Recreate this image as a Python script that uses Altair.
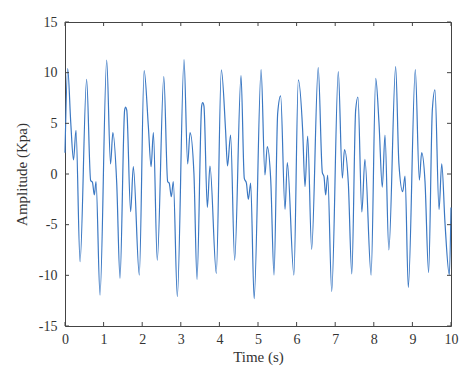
import altair as alt
import pandas as pd

time_s = [0.00, 0.07, 0.15, 0.22, 0.285, 0.39, 0.56, 0.665, 0.71, 0.76, 0.804, 0.907,
          1.08, 1.18, 1.24, 1.34, 1.425, 1.545, 1.57, 1.60, 1.70, 1.77, 1.925,
          2.05, 2.16, 2.23, 2.29, 2.39, 2.56, 2.66, 2.70, 2.755, 2.806, 2.91,
          3.083, 3.178, 3.24, 3.34, 3.42, 3.54, 3.567, 3.60, 3.687, 3.756, 3.92,
          4.05, 4.16, 4.21, 4.29, 4.395, 4.56, 4.645, 4.70, 4.75, 4.81, 4.90,
          5.08, 5.18, 5.24, 5.33, 5.415, 5.51, 5.587, 5.70, 5.76, 5.93,
          6.045, 6.157, 6.218, 6.287, 6.39, 6.56, 6.667, 6.71, 6.753, 6.805, 6.91,
          7.08, 7.185, 7.24, 7.34, 7.43, 7.53, 7.59, 7.69, 7.77, 7.93,
          8.05, 8.135, 8.22, 8.29, 8.39, 8.566, 8.65, 8.748, 8.81, 8.894,
          9.075, 9.18, 9.24, 9.326, 9.42, 9.516, 9.585, 9.69, 9.76, 9.845, 9.957, 10.0]
amplitude = [2.1, 10.4, 5.0, 1.4, 4.3, -8.66, 9.35, -0.66, -0.8, -2.07, -0.74, -11.95,
             11.25, 0.99, 4.08, -0.92, -10.3, 6.3, 6.6, 6.3, -3.72, 0.72, -9.97,
             10.2, 4.67, 0.72, 4.08, -8.5, 9.6, -0.76, -0.9, -2.24, -0.76, -12.1,
             11.3, 1.0, 4.08, 0.07, -10.4, 6.7, 7.04, 6.7, -3.29, 0.79, -9.8,
             10.27, 4.3, 0.79, 3.85, -8.5, 9.7, -0.43, -0.9, -2.5, -0.9, -12.3,
             10.3, -0.1, 2.7, -0.6, -9.97, 6.0, 7.7, -3.49, 1.12, -9.97,
             9.28, 4.3, -1.25, 3.75, -7.43, 10.5, 0.13, -0.26, -2.07, -0.1, -11.6,
             10.1, -0.4, 2.4, -0.92, -9.87, 6.3, 7.6, -3.75, 1.45, -9.97,
             9.44, 5.0, -1.3, 3.85, -7.5, 10.6, 1.05, -1.74, -0.2, -11.2,
             10.3, -0.6, 2.1, -0.7, -9.74, 6.3, 8.3, -3.5, 1.0, -4.87, -9.97, -3.3]

x_ticks = [0, 1, 2, 3, 4, 5, 6, 7, 8, 9, 10]
y_ticks = [-15, -10, -5, 0, 5, 10, 15]

W, H = 386, 304
FONT = "Liberation Serif"

df = pd.DataFrame({"t": time_s, "v": amplitude})
dfx = pd.DataFrame({"t": x_ticks})
dfy = pd.DataFrame({"v": y_ticks})

xs = alt.Scale(domain=[0, 10], nice=False)
ys = alt.Scale(domain=[-15, 15], nice=False)

xaxis = alt.Axis(values=x_ticks, tickCount=11, ticks=False, domain=False, grid=False,
                 labelOverlap=False, labelFlush=False,
                 labelPadding=6, titlePadding=3, labelExpr="'' + datum.value")
yaxis = alt.Axis(values=y_ticks, ticks=False, domain=False, grid=False,
                 labelOverlap=False, labelFlush=False,
                 labelPadding=8, titlePadding=9, labelExpr="'' + datum.value")

X = lambda: alt.X("t:Q", scale=xs, title="Time (s)", axis=xaxis)
Y = lambda: alt.Y("v:Q", scale=ys, title="Amplitude (Kpa)", axis=yaxis)

line = alt.Chart(df).mark_line(color="#3b78c3", strokeWidth=1.2, interpolate="monotone").encode(
    x=X(), y=Y())

tk = dict(color="#444444", strokeWidth=1)
bottom = alt.Chart(dfx).mark_rule(**tk).encode(x=X(), y=alt.value(H), y2=alt.value(H - 4))
top = alt.Chart(dfx).mark_rule(**tk).encode(x=X(), y=alt.value(0), y2=alt.value(4))
left = alt.Chart(dfy).mark_rule(**tk).encode(y=Y(), x=alt.value(0), x2=alt.value(4))
right = alt.Chart(dfy).mark_rule(**tk).encode(y=Y(), x=alt.value(W), x2=alt.value(W - 4))

chart = alt.layer(line, bottom, top, left, right).properties(
    width=W, height=H,
    autosize=alt.AutoSizeParams(type="none"),
    padding={"left": 57, "top": 14, "right": 15, "bottom": 40},
    background="white",
).configure_view(stroke="#444444", strokeWidth=1).configure_axis(
    labelFont=FONT, titleFont=FONT, labelFontSize=14, titleFontSize=15,
    labelColor="#333333", titleColor="#333333", titleFontWeight="normal",
    labelOverlap=False,
)

chart.save("out.html", embed_options={"renderer": "svg", "actions": False})
